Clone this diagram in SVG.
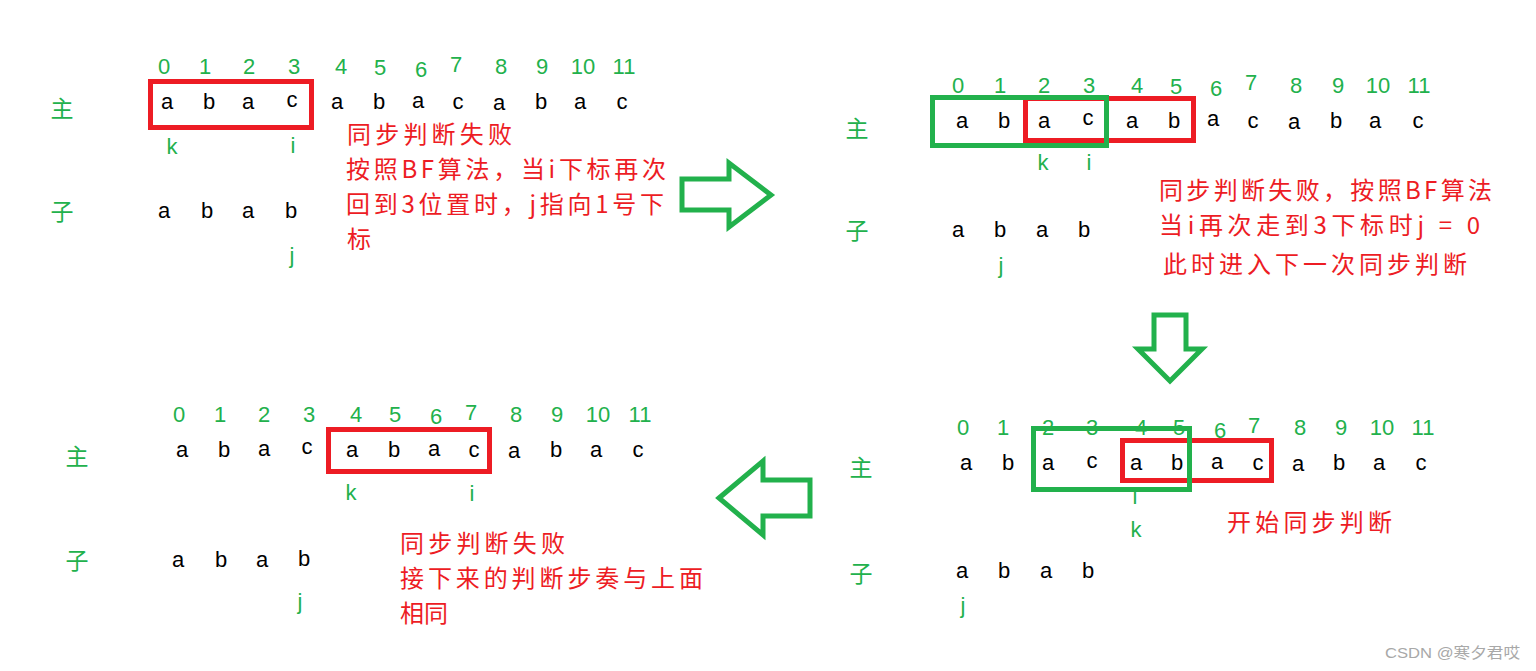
<svg xmlns="http://www.w3.org/2000/svg" width="1536" height="671" viewBox="0 0 1536 671">
<style>
.n{font-family:"Liberation Sans","Noto Sans",sans-serif;font-size:22px;fill:#22b14c;text-anchor:middle}
.l{font-family:"Liberation Sans","Noto Sans",sans-serif;font-size:22px;fill:#000;text-anchor:middle}
.p{font-family:"Liberation Sans","Noto Sans",sans-serif;font-size:22px;fill:#22b14c;text-anchor:middle}
.h{font-family:"Noto Sans CJK SC",sans-serif;font-size:23px;fill:#22b14c;text-anchor:middle}
.t{font-family:"Noto Sans CJK SC",sans-serif;font-size:24px;fill:#ed1c24}
.rr{fill:none;stroke:#ed1c24;stroke-width:5}
.gr{fill:none;stroke:#22b14c;stroke-width:5}
.ar{fill:none;stroke:#22b14c;stroke-width:5;stroke-linejoin:miter}
.wm{font-family:"Liberation Sans","Noto Sans CJK SC",sans-serif;font-size:15px;fill:#a8a8a8}
</style>
<rect width="1536" height="671" fill="#fff"/>

<g id="panel1">
<rect class="rr" x="150.5" y="81.5" width="161" height="46"/>
<text class="h" x="62" y="117">主</text>
<text class="h" x="62" y="220">子</text>
<g class="n">
<text x="164" y="74">0</text><text x="205" y="74">1</text><text x="249" y="74">2</text><text x="294" y="74">3</text>
<text x="341" y="74">4</text><text x="380" y="75">5</text><text x="421" y="77">6</text><text x="456" y="72">7</text>
<text x="501" y="74">8</text><text x="542" y="74">9</text><text x="583" y="74">10</text><text x="624" y="74">11</text>
</g>
<g class="l">
<text x="167" y="109">a</text><text x="209" y="109">b</text><text x="248" y="109">a</text><text x="292" y="107">c</text>
<text x="337" y="109">a</text><text x="379" y="109">b</text><text x="418" y="108">a</text><text x="458" y="109">c</text>
<text x="499" y="110">a</text><text x="541" y="109">b</text><text x="580" y="109">a</text><text x="622" y="109">c</text>
<text x="164" y="218">a</text><text x="207" y="218">b</text><text x="248" y="218">a</text><text x="291" y="218">b</text>
</g>
<text class="p" x="172" y="154">k</text>
<text class="p" x="293" y="153">i</text>
<text class="p" x="292" y="263">j</text>
<text class="t" x="347" y="143" textLength="165" lengthAdjust="spacing">同步判断失败</text>
<text class="t" x="346" y="178" textLength="320" lengthAdjust="spacing">按照BF算法，当i下标再次</text>
<text class="t" x="346" y="213" textLength="318" lengthAdjust="spacing">回到3位置时，j指向1号下</text>
<text class="t" x="347" y="248">标</text>
</g>

<g id="panel2">
<rect class="rr" x="1025.5" y="98.5" width="168" height="42"/>
<rect class="gr" x="932.5" y="97.5" width="174" height="48"/>
<text class="h" x="857" y="137">主</text>
<text class="h" x="857" y="239">子</text>
<g class="n">
<text x="958" y="93">0</text><text x="1000" y="93">1</text><text x="1044" y="93">2</text><text x="1089" y="93">3</text>
<text x="1137" y="93">4</text><text x="1176" y="94">5</text><text x="1216" y="96">6</text><text x="1251" y="90">7</text>
<text x="1296" y="93">8</text><text x="1338" y="93">9</text><text x="1378" y="93">10</text><text x="1419" y="93">11</text>
</g>
<g class="l">
<text x="962" y="128">a</text><text x="1004" y="128">b</text><text x="1044" y="128">a</text><text x="1088" y="125">c</text>
<text x="1132" y="128">a</text><text x="1174" y="128">b</text><text x="1213" y="126">a</text><text x="1253" y="128">c</text>
<text x="1294" y="129">a</text><text x="1336" y="128">b</text><text x="1375" y="128">a</text><text x="1418" y="128">c</text>
<text x="958" y="237">a</text><text x="1000" y="237">b</text><text x="1042" y="237">a</text><text x="1084" y="237">b</text>
</g>
<text class="p" x="1043" y="170">k</text>
<text class="p" x="1089" y="170">i</text>
<text class="p" x="1001" y="273">j</text>
<text class="t" x="1159" y="199" textLength="333" lengthAdjust="spacing">同步判断失败，按照BF算法</text>
<text class="t" x="1159" y="234" textLength="321" lengthAdjust="spacing">当i再次走到3下标时j = 0</text>
<text class="t" x="1163" y="273" textLength="304" lengthAdjust="spacing">此时进入下一次同步判断</text>
</g>

<g id="panel3">
<rect class="rr" x="1122.5" y="440.5" width="149" height="40"/>
<rect class="gr" x="1033.5" y="428.5" width="156" height="61"/>
<text class="h" x="861" y="476">主</text>
<text class="h" x="861" y="582">子</text>
<g class="n">
<text x="963" y="435">0</text><text x="1003" y="435">1</text><text x="1048" y="435">2</text><text x="1092" y="435">3</text>
<text x="1141" y="435">4</text><text x="1179" y="435">5</text><text x="1220" y="438">6</text><text x="1254" y="433">7</text>
<text x="1300" y="435">8</text><text x="1341" y="435">9</text><text x="1382" y="435">10</text><text x="1423" y="435">11</text>
</g>
<g class="l">
<text x="966" y="470">a</text><text x="1008" y="470">b</text><text x="1048" y="470">a</text><text x="1092" y="468">c</text>
<text x="1136" y="470">a</text><text x="1177" y="470">b</text><text x="1217" y="469">a</text><text x="1258" y="470">c</text>
<text x="1298" y="471">a</text><text x="1339" y="470">b</text><text x="1379" y="470">a</text><text x="1421" y="470">c</text>
<text x="962" y="578">a</text><text x="1004" y="578">b</text><text x="1046" y="578">a</text><text x="1088" y="578">b</text>
</g>
<text class="p" x="1135" y="504">i</text>
<text class="p" x="1136" y="537">k</text>
<text class="p" x="963" y="613">j</text>
<text class="t" x="1227" y="531" textLength="165" lengthAdjust="spacing">开始同步判断</text>
</g>

<g id="panel4">
<rect class="rr" x="328.5" y="429.5" width="161" height="42"/>
<text class="h" x="77" y="465">主</text>
<text class="h" x="77" y="569">子</text>
<g class="n">
<text x="179" y="422">0</text><text x="220" y="422">1</text><text x="264" y="422">2</text><text x="309" y="422">3</text>
<text x="356" y="422">4</text><text x="395" y="422">5</text><text x="436" y="424">6</text><text x="471" y="420">7</text>
<text x="516" y="422">8</text><text x="557" y="422">9</text><text x="598" y="422">10</text><text x="640" y="422">11</text>
</g>
<g class="l">
<text x="182" y="457">a</text><text x="224" y="457">b</text><text x="264" y="456">a</text><text x="307" y="454">c</text>
<text x="352" y="457">a</text><text x="394" y="457">b</text><text x="434" y="456">a</text><text x="474" y="457">c</text>
<text x="514" y="458">a</text><text x="556" y="457">b</text><text x="596" y="457">a</text><text x="638" y="457">c</text>
<text x="178" y="567">a</text><text x="221" y="567">b</text><text x="262" y="567">a</text><text x="304" y="566">b</text>
</g>
<text class="p" x="351" y="500">k</text>
<text class="p" x="472" y="501">i</text>
<text class="p" x="300" y="609">j</text>
<text class="t" x="400" y="552" textLength="165" lengthAdjust="spacing">同步判断失败</text>
<text class="t" x="400" y="587" textLength="303" lengthAdjust="spacing">接下来的判断步奏与上面</text>
<text class="t" x="400" y="622">相同</text>
</g>

<g id="connectors">
<polygon class="ar" points="682,179 729,179 729,163 771,195 729,227 729,210 682,210"/>
<polygon class="ar" points="1154,315 1186,315 1186,349 1202,349 1170,381 1138,349 1154,349"/>
<polygon class="ar" points="719,498 763,461 763,480 810,480 810,516 763,516 763,535"/>
</g>

<text class="wm" x="1385" y="658" textLength="135" lengthAdjust="spacingAndGlyphs">CSDN @寒夕君哎</text>
</svg>
